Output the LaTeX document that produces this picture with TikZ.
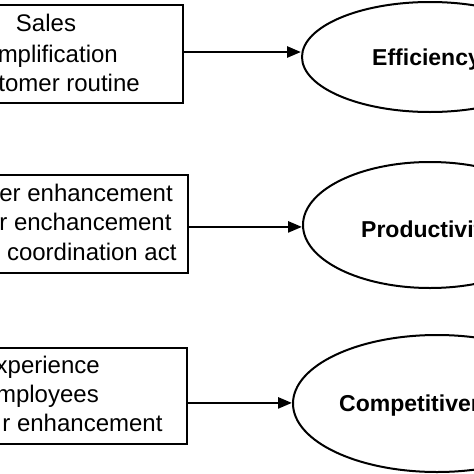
\documentclass[tikz,border=0pt]{standalone}
\usepackage{fontspec}
\setmainfont{Liberation Sans}
\usetikzlibrary{shapes.geometric,arrows.meta}
\begin{document}
\begin{tikzpicture}[x=1pt,y=-1pt,
  boxnode/.style={draw,line width=2pt,rectangle,inner sep=0pt},
  ellnode/.style={draw,line width=2pt,ellipse,inner sep=0pt},
  linetext/.style={inner sep=0pt,font=\fontsize{24}{29}\selectfont},
  elltext/.style={inner sep=0pt,font=\fontsize{23}{28}\selectfont\bfseries,anchor=base west},
  arr/.style={line width=2.6pt,-{Triangle[length=14pt,width=11pt]}}]
\useasboundingbox (0,0) rectangle (474,474);
\clip (0,0) rectangle (474,474);
% boxes
\node[boxnode,minimum width=274pt,minimum height=98pt] (b1) at (46,54) {};
\node[boxnode,minimum width=274pt,minimum height=98.3pt] (b2) at (51.3,224.2) {};
\node[boxnode,minimum width=293.4pt,minimum height=95.7pt] (b3) at (40,396.2) {};
% box texts
\node[linetext,anchor=base] (t11) at (46,31.7) {Sales};
\node[linetext,anchor=base east] (t12) at (118,62) {mplification};
\node[linetext,anchor=base east] (t13) at (140,91.7) {tomer routine};
\node[linetext,anchor=base east] (t21) at (173,201.7) {er enhancement};
\node[linetext,anchor=base east] (t22) at (171.7,230.7) {r enchancement};
\node[linetext,anchor=base east] (t23) at (176.7,260) {coordination act};
\node[linetext,anchor=base east] (t31) at (100,373.3) {xperience};
\node[linetext,anchor=base east] (t32) at (99,402.7) {mployees};
\node[linetext,anchor=base east] (t33) at (162.7,431.7) {r enhancement};
% ellipses
\node[ellnode,minimum width=256pt,minimum height=110pt] (e1) at (430,57) {};
\node[ellnode,minimum width=254pt,minimum height=126pt] (e2) at (430,225) {};
\node[ellnode,minimum width=288pt,minimum height=137pt] (e3) at (437,403.5) {};
% ellipse texts
\node[elltext] (l1) at (372,65.7) {Efficiency};
\node[elltext] (l2) at (361,237) {Productivit};
\node[elltext] (l3) at (339,411.7) {Competitiven};
% arrows
\coordinate (a1) at ([yshift=2pt]b1.east);
\coordinate (a2) at ([yshift=-2.7pt]b2.east);
\coordinate (a3) at ([yshift=-6.7pt]b3.east);
\draw[arr] (a1) -- (a1 -| e1.west);
\draw[arr] (a2) -- (a2 -| e2.west);
\draw[arr] (a3) -- (a3 -| e3.west);
\end{tikzpicture}
\end{document}
